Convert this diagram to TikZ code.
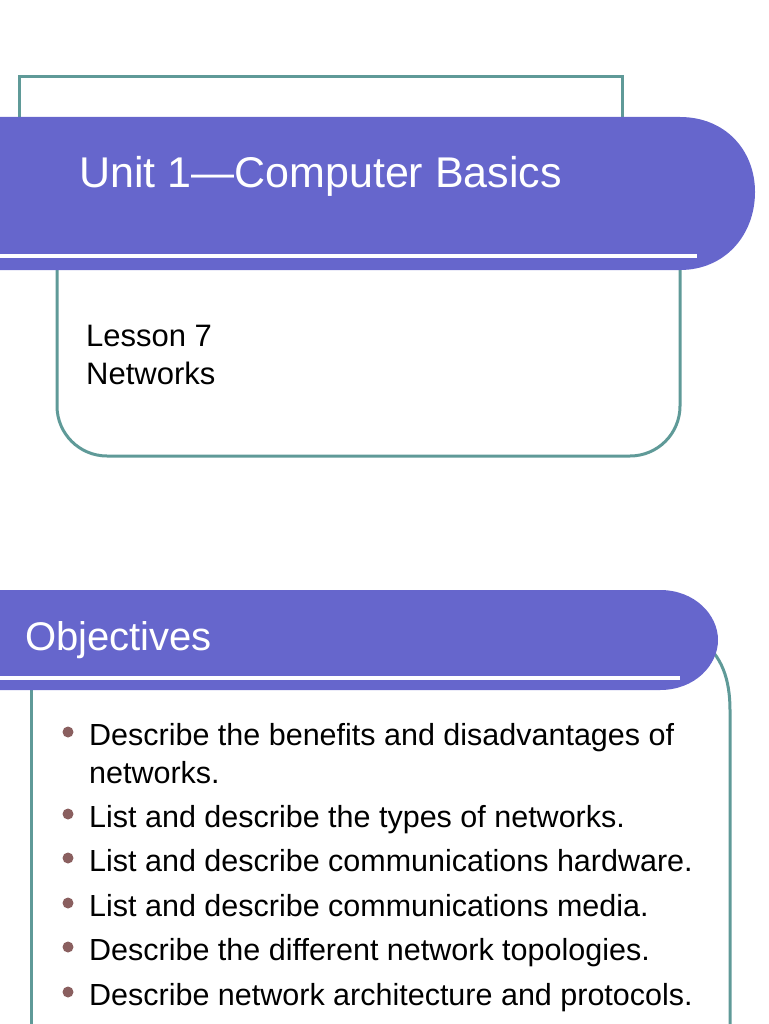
\documentclass[tikz,border=0pt]{standalone}
\usepackage{fontspec}
\setmainfont{Liberation Sans}
\definecolor{ban}{HTML}{6666CC}
\definecolor{teal}{HTML}{5F9A98}
\definecolor{bul}{HTML}{8A5F5F}
\tikzset{tealline/.style={draw=teal,line width=3pt},
 txt/.style={anchor=base west,inner sep=0pt},
 item/.style={txt,font=\fontsize{30.5}{38}\selectfont}}
\begin{document}
\begin{tikzpicture}[x=1pt,y=-1pt]
\useasboundingbox (0,0) rectangle (768,1024);
% slide 1
\draw[tealline] (19,120) -- (19,77) -- (622,77) -- (622,120);
\draw[tealline,rounded corners=50pt] (57,265) -- (57,456) -- (680,456) -- (680,265);
\fill[ban] (0,117) -- (680,117) .. controls (725,117) and (755,150) .. (755,192) .. controls (755,235) and (725,270) .. (680,270) -- (0,270) -- cycle;
\fill[white] (0,254) rectangle (697,258);
\node[txt,text=white,font=\fontsize{43}{52}\selectfont] (t1) at (79,188) {Unit 1—Computer Basics};
\node[txt,font=\fontsize{31}{38}\selectfont] (l1) at (86,346) {Lesson 7};
\node[txt,font=\fontsize{31}{38}\selectfont] (l2) at (86,384) {Networks};
% slide 2
\draw[tealline] (31,680) -- (31,1024);
\draw[tealline] (700,640) .. controls (722,655) and (730,680) .. (730,710) -- (730,1024);
\fill[ban] (0,590) -- (660,590) .. controls (695,590) and (718,615) .. (718,640) .. controls (718,665) and (695,690) .. (660,690) -- (0,690) -- cycle;
\fill[white] (0,676) rectangle (680,680);
\node[txt,text=white,font=\fontsize{40}{48}\selectfont] (t2) at (25,650) {Objectives};
\foreach \y/\t [count=\i] in {745/Describe the benefits and disadvantages of,827/List and describe the types of networks.,871/List and describe communications hardware.,916/List and describe communications media.,960/Describe the different network topologies.,1005/Describe network architecture and protocols.}{
 \fill[bul] (68,\y-13) circle (5.5);
 \node[item] (i\i) at (89,\y) {\t};
}
\node[item] (i1b) at (89,783) {networks.};
\end{tikzpicture}
\end{document}
